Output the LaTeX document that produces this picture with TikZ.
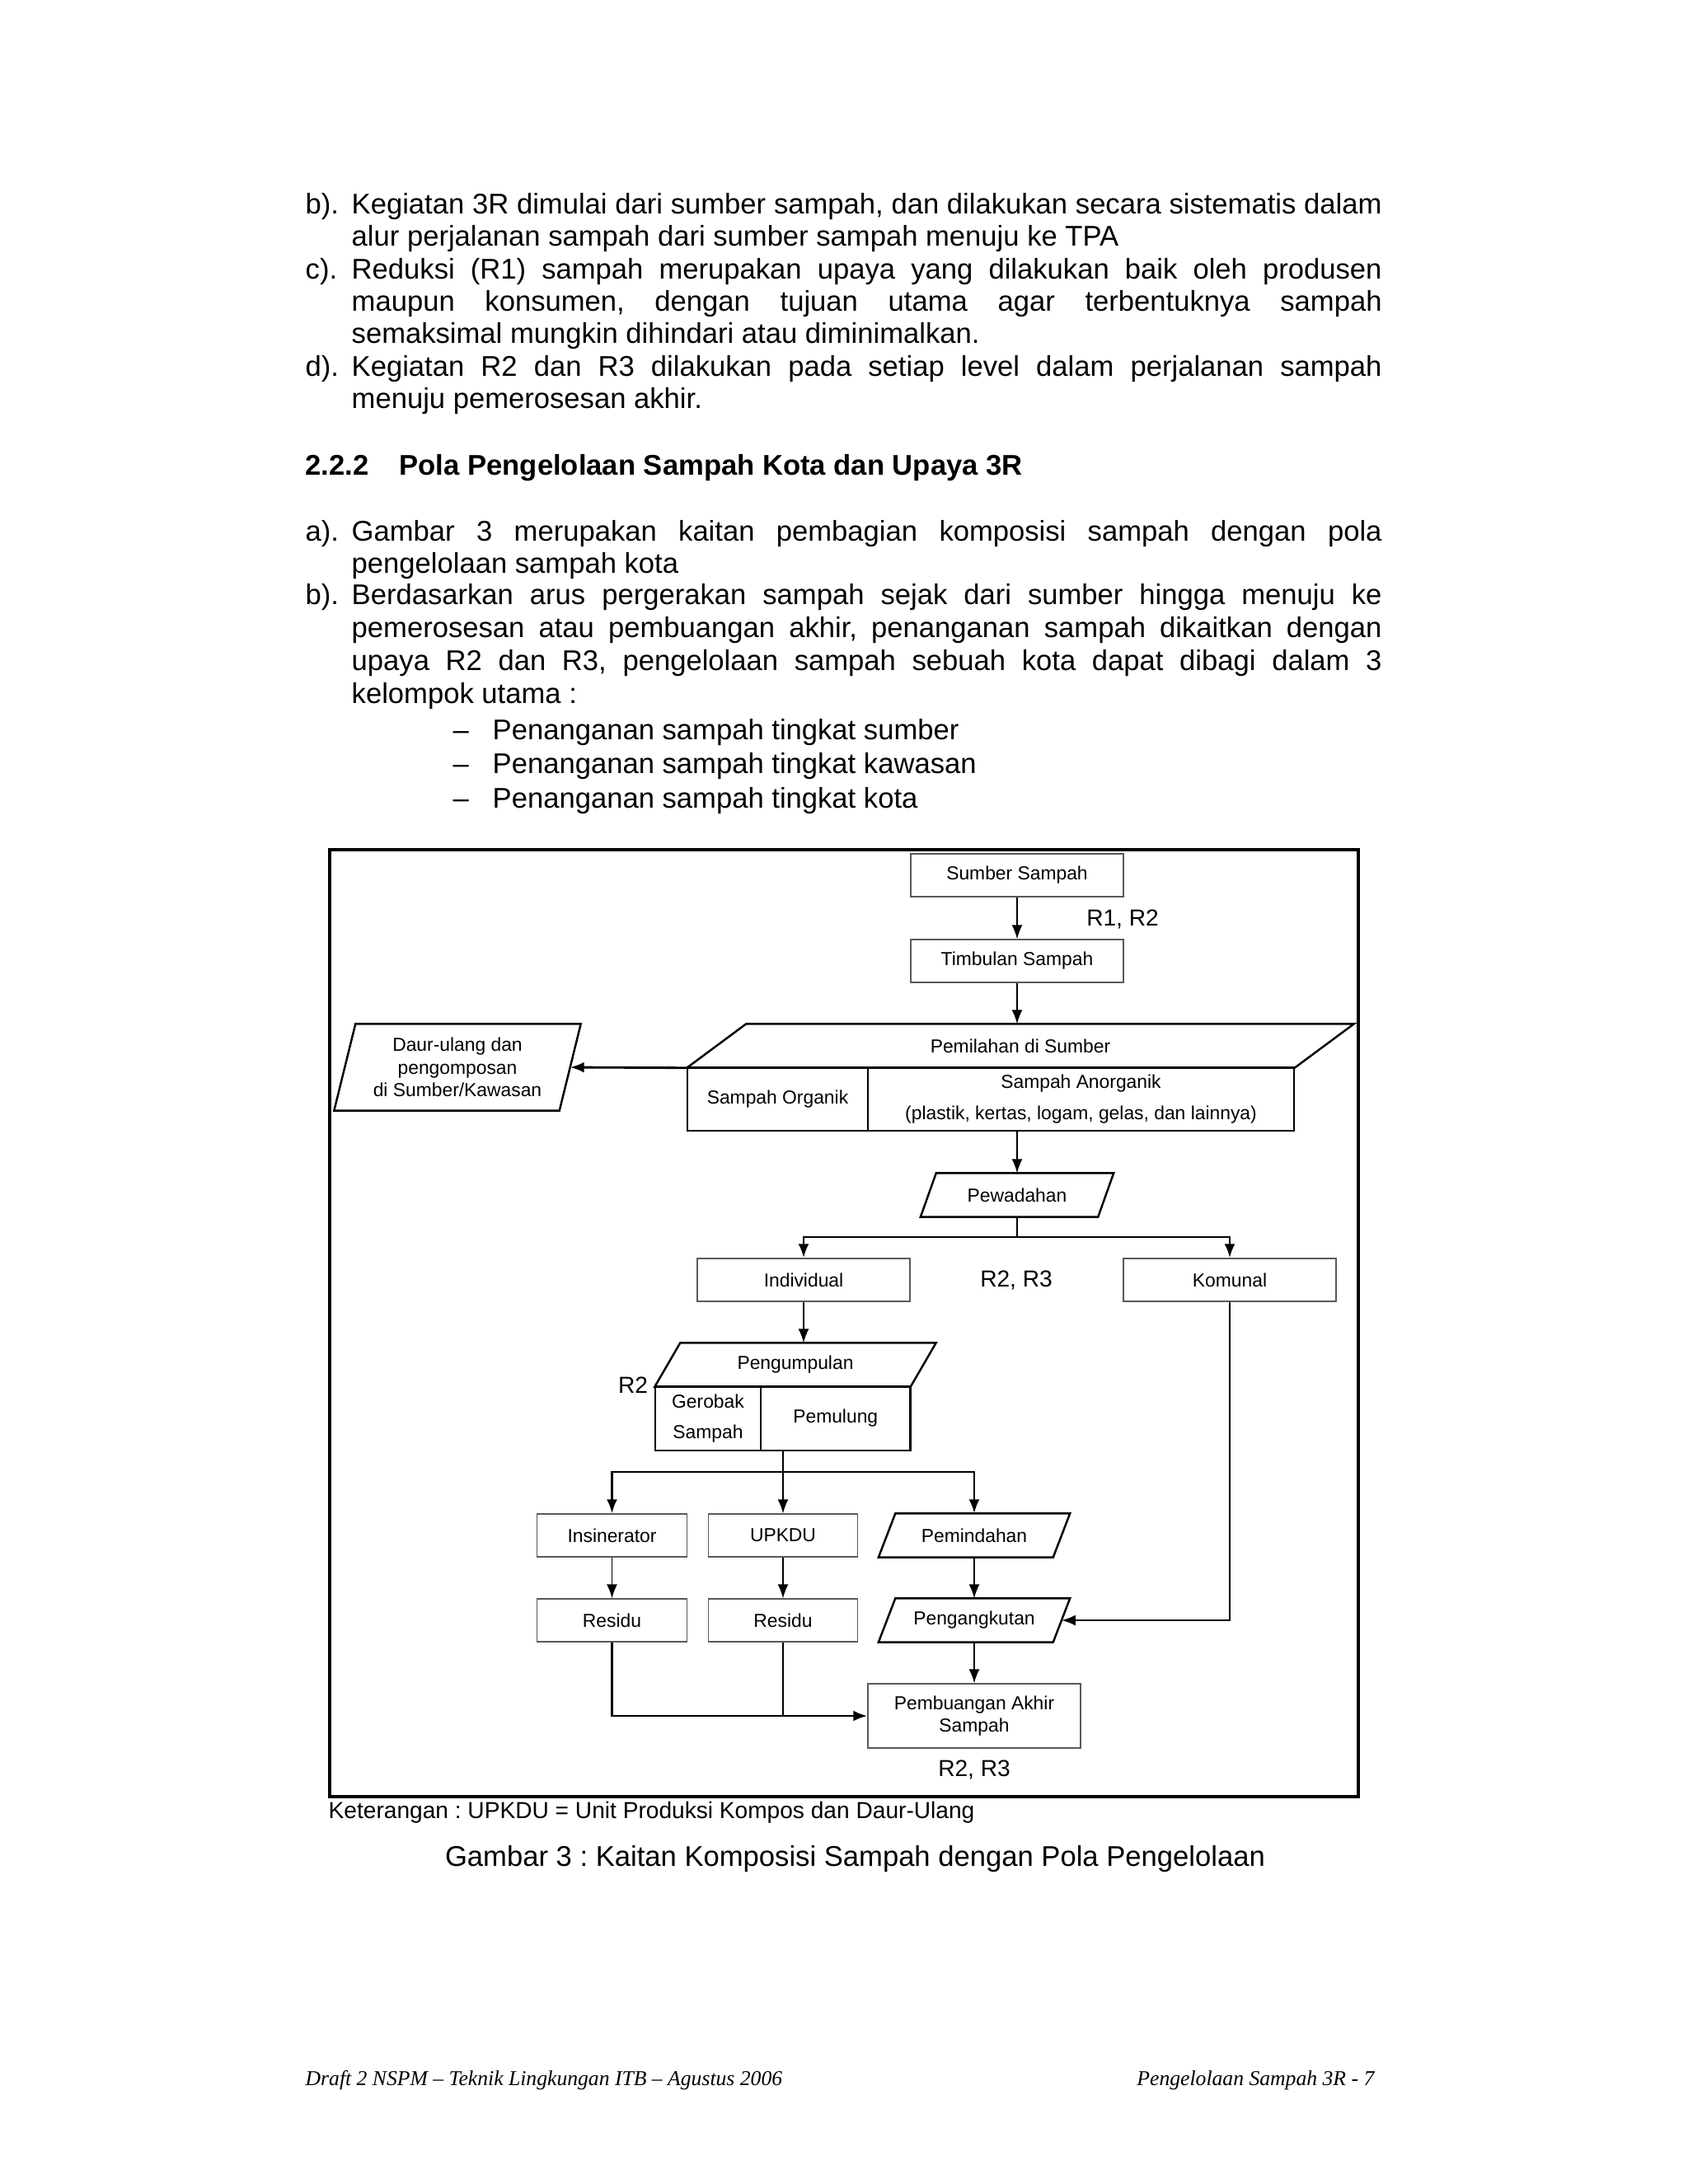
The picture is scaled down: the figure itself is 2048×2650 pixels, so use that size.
\documentclass[tikz,border=0pt]{standalone}
\usepackage{fontspec}
\setmainfont{Liberation Sans}
\newfontfamily\footfont[Ligatures=TeX]{Liberation Serif}
\usetikzlibrary{arrows.meta}
\frenchspacing

\newcommand{\bodyfont}{\fontsize{9.85}{12}\selectfont}
\newcommand{\diagfont}{\fontsize{6.5}{7.8}\selectfont}
\newcommand{\jl}[1]{\makebox[125mm][s]{#1}}
% parallelogram outline round a named node
\newcommand{\ioshape}[2]{\draw[iobox] (#1.south west) -- ([xshift=#2]#1.north west) -- (#1.north east) -- ([xshift=-#2]#1.south east) -- cycle;}

\begin{document}
\begin{tikzpicture}[x=0.1mm,y=-0.1mm,
  txt/.style={anchor=base west,inner sep=0pt,font=\bodyfont},
  box/.style={draw=black!65,line width=0.4pt,minimum width=25.8mm,minimum height=5.2mm,inner sep=0pt,font=\diagfont,align=center},
  io/.style={minimum height=5.2mm,inner sep=0pt,font=\diagfont,align=center},
  cell/.style={draw,line width=0.7pt,minimum height=7.7mm,inner sep=0pt,font=\diagfont,align=center},
  iobox/.style={line width=0.7pt},
  rlabel/.style={font=\fontsize{8}{9.6}\selectfont},
  >={Latex[length=1.7mm,width=1.3mm]},
  flow/.style={->,line width=0.45pt},
  bus/.style={line width=0.8pt}]

\path[fill=white] (0,0) rectangle (2048,2650);
\useasboundingbox (0,0) rectangle (2048,2650);

% page text
\node[txt] (lb1) at (370,259) {b).};
\node[txt] (tb1) at (426,259) {\jl{Kegiatan 3R dimulai dari sumber sampah, dan dilakukan secara sistematis dalam}};
\node[txt] (tb2) at (426,298.5) {alur perjalanan sampah dari sumber sampah menuju ke TPA};
\node[txt] (lc1) at (370,338) {c).};
\node[txt] (tc1) at (426,338) {\jl{Reduksi (R1) sampah merupakan upaya yang dilakukan baik oleh produsen}};
\node[txt] (tc2) at (426,377) {\jl{maupun konsumen, dengan tujuan utama agar terbentuknya sampah}};
\node[txt] (tc3) at (426,416.5) {semaksimal mungkin dihindari atau diminimalkan.};
\node[txt] (ld1) at (370,456) {d).};
\node[txt] (td1) at (426,456) {\jl{Kegiatan R2 dan R3 dilakukan pada setiap level dalam perjalanan sampah}};
\node[txt] (td2) at (426,495) {menuju pemerosesan akhir.};

\node[txt,font=\bodyfont\bfseries] (secnum) at (370,576.5) {2.2.2};
\node[txt,font=\bodyfont\bfseries] (sectitle) at (484,576.5) {Pola Pengelolaan Sampah Kota dan Upaya 3R};

\node[txt] (la1) at (370,656) {a).};
\node[txt] (ta1) at (426,656) {\jl{Gambar 3 merupakan kaitan pembagian komposisi sampah dengan pola}};
\node[txt] (ta2) at (426,695) {pengelolaan sampah kota};
\node[txt] (lbb1) at (370,733.5) {b).};
\node[txt] (tbb1) at (426,733.5) {\jl{Berdasarkan arus pergerakan sampah sejak dari sumber hingga menuju ke}};
\node[txt] (tbb2) at (426,773.5) {\jl{pemerosesan atau pembuangan akhir, penanganan sampah dikaitkan dengan}};
\node[txt] (tbb3) at (426,813) {\jl{upaya R2 dan R3, pengelolaan sampah sebuah kota dapat dibagi dalam 3}};
\node[txt] (tbb4) at (426,853) {kelompok utama :};

\node[txt] (dash1) at (549,897) {--};
\node[txt] (item1) at (597,897) {Penanganan sampah tingkat sumber};
\node[txt] (dash2) at (549,938.5) {--};
\node[txt] (item2) at (597,938.5) {Penanganan sampah tingkat kawasan};
\node[txt] (dash3) at (549,980) {--};
\node[txt] (item3) at (597,980) {Penanganan sampah tingkat kota};

% figure frame
\draw[line width=0.9pt] (400,1031) rectangle (1648,2180);

% boxes
\node[box] (sumber) at (1234,1062) {Sumber Sampah};
\node[box] (timbulan) at (1234,1166) {Timbulan Sampah};
\node[io,minimum width=80.8mm] (pemilahan) at (1238,1269) {Pemilahan di Sumber};
\node[cell,minimum width=21.9mm] (organik) at (943.5,1333.5) {Sampah Organik};
\node[cell,minimum width=51.7mm] (anorganik) at (1311.5,1333.5) {Sampah Anorganik\\[1.1mm](plastik, kertas, logam, gelas, dan lainnya)};
\node[io,minimum width=29.8mm,minimum height=10.4mm] (daur) at (555,1295) {Daur-ulang dan\\pengomposan\\di Sumber/Kawasan};
\node[io,minimum width=23.3mm] (pewadahan) at (1234,1450) {Pewadahan};
\node[box] (individual) at (975,1553) {Individual};
\node[box] (komunal) at (1492,1553) {Komunal};
\node[io,minimum width=34mm] (pengumpulan) at (965,1656) {Pengumpulan};
\node[cell,minimum width=12.8mm,minimum height=7.8mm] (gerobak) at (859,1721) {Gerobak\\[0.95mm]Sampah};
\node[cell,minimum width=18.15mm,minimum height=7.8mm] (pemulung) at (1013.75,1721) {Pemulung};
\node[box,minimum width=18.15mm] (insinerator) at (742.5,1863) {Insinerator};
\node[box,minimum width=18.15mm] (upkdu) at (950,1863) {UPKDU};
\node[io,minimum width=23.1mm] (pemindahan) at (1182,1863) {Pemindahan};
\node[box,minimum width=18.15mm] (residu1) at (742.5,1966) {Residu};
\node[box,minimum width=18.15mm] (residu2) at (950,1966) {Residu};
\node[io,minimum width=23.1mm] (pengangkutan) at (1182,1966) {Pengangkutan};
\node[box,minimum height=7.8mm] (akhir) at (1182,2082) {Pembuangan Akhir\\Sampah};

\ioshape{pemilahan}{7.2mm}
\ioshape{daur}{2.6mm}
\ioshape{pewadahan}{1.9mm}
\ioshape{pengumpulan}{3.1mm}
\ioshape{pemindahan}{2.05mm}
\ioshape{pengangkutan}{2.05mm}

% R labels
\node[rlabel] (rsumber) at (1362,1115) {R1, R2};
\node[rlabel] (rwadah) at (1233,1553) {R2, R3};
\node[rlabel] (rkumpul) at (768,1681) {R2};
\node[rlabel] (rakhir) at (1182,2147) {R2, R3};

% connectors
\coordinate (split1) at (1234,1501);
\coordinate (split2) at (950,1786);
\draw[flow] (sumber) -- (timbulan);
\draw[flow] (timbulan) -- (timbulan |- pemilahan.north);
\draw[->,bus] (pemilahan.south west) -- ([xshift=-1.3mm]daur.east);
\draw[flow] (anorganik.south -| pewadahan) -- (pewadahan.north);
\draw[line width=0.45pt] (pewadahan.south) -- (split1);
\draw[->,bus] (split1) -| (individual.north);
\draw[->,bus] (split1) -| (komunal.north);
\draw[flow] (individual) -- (individual |- pengumpulan.north);
\draw[line width=0.45pt] (pemulung.south -| split2) -- (split2);
\draw[->,bus] (split2) -| (insinerator.north);
\draw[->,bus] (split2) -| (pemindahan.north);
\draw[flow] (split2) -- (upkdu.north);
\draw[flow] (insinerator) -- (residu1);
\draw[flow] (upkdu) -- (residu2);
\draw[flow] (pemindahan) -- (pengangkutan);
\draw[flow] (pengangkutan) -- (akhir);
\draw[->,line width=0.6pt] (komunal.south) |- ([xshift=-1.03mm]pengangkutan.east);
\draw[->,bus] (residu1.south) |- (akhir.west);
\draw[line width=0.45pt] (residu2.south) -- (residu2.south |- akhir.west);

% notes and caption
\node[anchor=base west,inner sep=0pt,font=\fontsize{8}{9.6}\selectfont] (note) at (398,2206) {Keterangan : UPKDU = Unit Produksi Kompos dan Daur-Ulang};
\node[anchor=base,inner sep=0pt,font=\bodyfont] (caption) at (1037.5,2264.5) {Gambar 3 : Kaitan Komposisi Sampah dengan Pola Pengelolaan};

% footer
\node[anchor=base west,inner sep=0pt,font=\footfont\itshape\fontsize{7.3}{9}\selectfont] (footl) at (370,2530) {Draft 2 NSPM – Teknik Lingkungan ITB – Agustus 2006};
\node[anchor=base east,inner sep=0pt,font=\footfont\itshape\fontsize{7.3}{9}\selectfont] (footr) at (1668,2530) {Pengelolaan Sampah 3R - 7};
\end{tikzpicture}
\end{document}
